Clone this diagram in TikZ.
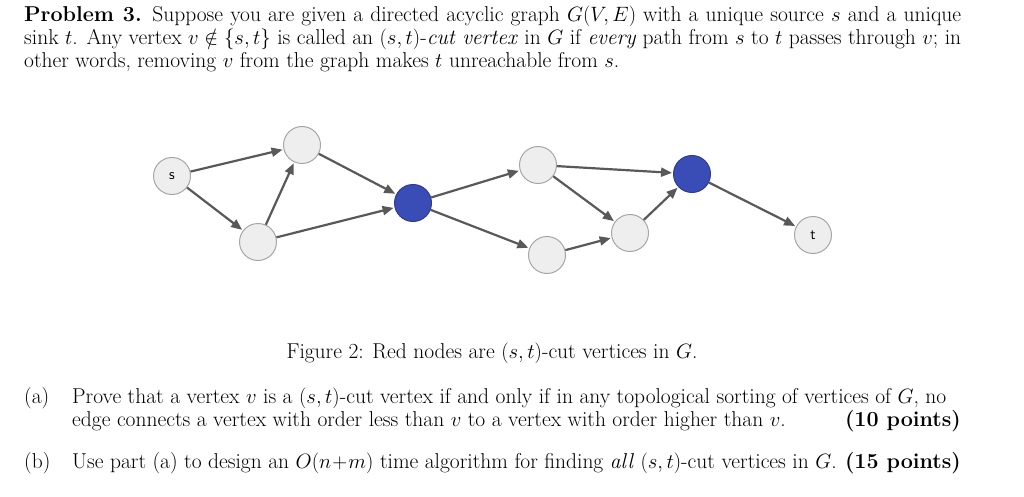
\documentclass[tikz,border=0pt]{standalone}
\usetikzlibrary{arrows.meta}
\definecolor{nodegray}{HTML}{EEEEEE}
\definecolor{edgegray}{HTML}{595959}
\definecolor{cutblue}{HTML}{3A4CB5}
\begin{document}
\begin{tikzpicture}[x=1pt,y=-1pt,
  vtx/.style={circle,draw=gray!70,fill=nodegray,line width=1pt,minimum size=37pt,inner sep=0pt,font=\sffamily\fontsize{15}{17}\selectfont},
  cut/.style={circle,draw=cutblue!80!black,fill=cutblue,line width=1pt,minimum size=37pt,inner sep=0pt},
  edge/.style={-{Triangle[length=11pt,width=9pt]},draw=edgegray,line width=2.2pt,shorten >=1pt},
  txt/.style={font=\fontsize{21.5}{23}\selectfont,inner sep=0pt}]
\useasboundingbox (0,0) rectangle (1024,497);
\node[txt,anchor=base west,text width=937pt,align=justify] (p1) at (24,22)
{\parfillskip=0pt \textbf{Problem 3.} Suppose you are given a directed acyclic graph $G(V,E)$ with a unique source $s$ and a unique\par};
\node[txt,anchor=base west,text width=937pt,align=justify] (p2) at (24,45)
{\parfillskip=0pt sink $t$. Any vertex $v\notin\{s,t\}$ is called an $(s,t)$-\emph{cut vertex} in $G$ if \emph{every} path from $s$ to $t$ passes through $v$; in\par};
\node[txt,anchor=base west] (p3) at (24,68)
{other words, removing $v$ from the graph makes $t$ unreachable from $s$.};
\node[vtx] (s) at (172,176) {s};
\node[vtx] (a) at (302,145) {};
\node[vtx] (b) at (258,242) {};
\node[cut] (c) at (413,203) {};
\node[vtx] (d) at (538,165) {};
\node[vtx] (e) at (547,255) {};
\node[vtx] (f) at (630,233) {};
\node[cut] (g) at (692,174) {};
\node[vtx] (t) at (813,235) {t};
\foreach \u/\v in {s/a,s/b,b/a,a/c,b/c,c/d,c/e,d/g,d/f,e/f,f/g,g/t}
  \draw[edge] (\u) -- (\v);
\node[txt,anchor=base] (cap) at (492,358) {Figure 2: Red nodes are $(s,t)$-cut vertices in $G$.};
\node[txt,anchor=base west] (la) at (24,403) {(a)};
\node[txt,anchor=base west] (a1) at (72,403) {Prove that a vertex $v$ is a $(s,t)$-cut vertex if and only if in any topological sorting of vertices of $G$, no};
\node[txt,anchor=base west] (a2) at (72,426) {edge connects a vertex with order less than $v$ to a vertex with order higher than $v$.};
\node[txt,anchor=base east] (ap) at (961,426) {\textbf{(10 points)}};
\node[txt,anchor=base west] (lb) at (24,468) {(b)};
\node[txt,anchor=base west] (b1) at (72,468) {Use part (a) to design an $O(n\!+\!m)$ time algorithm for finding \emph{all} $(s,t)$-cut vertices in $G$.};
\node[txt,anchor=base east] (bp) at (961,468) {\textbf{(15 points)}};
\end{tikzpicture}
\end{document}
